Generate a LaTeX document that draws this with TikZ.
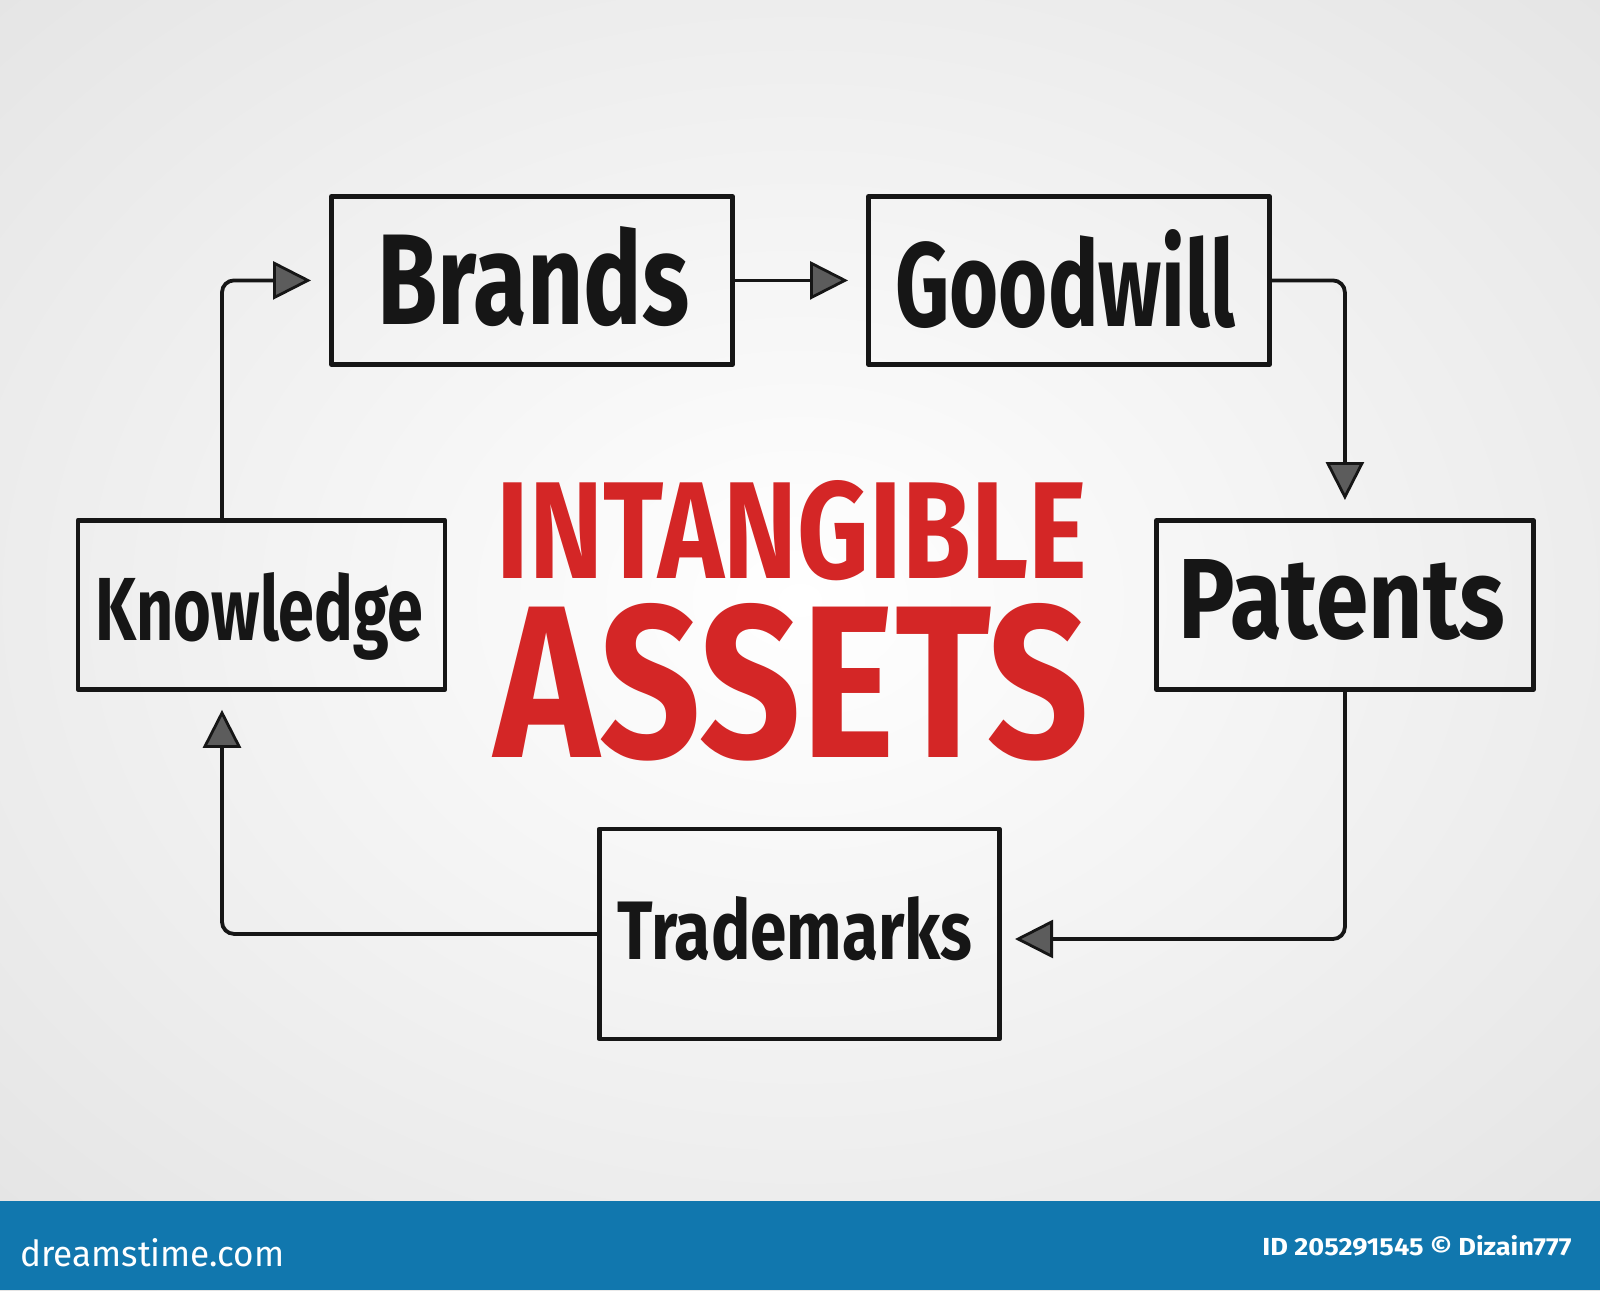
\documentclass[tikz,border=0pt]{standalone}
\usepackage{fontspec}
\setmainfont{Fira Sans}
\usetikzlibrary{arrows.meta}
\definecolor{inkred}{RGB}{212,38,38}
\definecolor{barblue}{RGB}{17,119,174}
\definecolor{ink}{RGB}{22,22,22}
\begin{document}
\begin{tikzpicture}[x=0.5pt,y=-0.5pt,
  box/.style={draw=ink,line width=2.4pt,line join=round,anchor=north west,inner sep=0pt},
  lbl/.style={anchor=base west,inner sep=0pt,text=ink,font=\bfseries},
  title/.style={anchor=north,inner sep=0pt,text=inkred,font=\bfseries,align=center},
  conn/.style={draw=ink,line width=1.9pt,rounded corners=6pt,
    -{Triangle[length=19pt,width=19pt,fill=ink!70,line width=1.4pt]},shorten >=9pt},
  bartext/.style={anchor=base west,inner sep=0pt,text=white}]
\useasboundingbox (0,0) rectangle (1600,1290);
% background
\shade[inner color=white,outer color=black!10] (-300,-250) rectangle (1900,1450);
\fill[barblue] (0,1201) rectangle (1600,1290);
% boxes
\node[box,minimum width=200.5pt,minimum height=84pt] (brands) at (329,194) {};
\node[box,minimum width=200.5pt,minimum height=84pt] (goodwill) at (866,194) {};
\node[box,minimum width=183.5pt,minimum height=84.5pt] (knowledge) at (75.5,518) {};
\node[box,minimum width=188.5pt,minimum height=84.5pt] (patents) at (1154,518) {};
\node[box,minimum width=200pt,minimum height=105pt] (trademarks) at (597,826.5) {};
% labels
\node[lbl] (tbrands) at (377,324.5) {\resizebox{156pt}{49pt}{Brands}};
\node[lbl] (tgoodwill) at (895,326) {\resizebox{170pt}{48.5pt}{Goodwill}};
\node[lbl] (tknowledge) at (95,640) {\resizebox{164pt}{34pt}{Knowledge}};
\node[lbl] (tpatents) at (1178,638) {\resizebox{163.5pt}{39.5pt}{Patents}};
\node[lbl] (ttrademarks) at (617,959) {\resizebox{177.5pt}{31.5pt}{Trademarks}};
\node[title] (ttitle) at (792,480) {\resizebox{295pt}{49pt}{INTANGIBLE}\\[10.5pt]\resizebox{297pt}{77pt}{ASSETS}};
% connectors
\coordinate (kx) at (222,600);
\coordinate (tin) at (997,939);
\draw[conn] (knowledge.north -| kx) |- (brands.west);
\draw[conn] (brands.east) -- (goodwill.west);
\draw[conn] (goodwill.east) -| (patents.north);
\draw[conn] (patents.south) |- (tin);
\draw[conn] (trademarks.west) -| (knowledge.south -| kx);
% bottom bar texts
\node[bartext] (site) at (20,1266) {\resizebox{132pt}{14pt}{dreamstime.com}};
\node[bartext,font=\bfseries] (credit) at (1262,1255) {\resizebox{154.5pt}{10pt}{ID 205291545 © Dizain777}};
\end{tikzpicture}
\end{document}
